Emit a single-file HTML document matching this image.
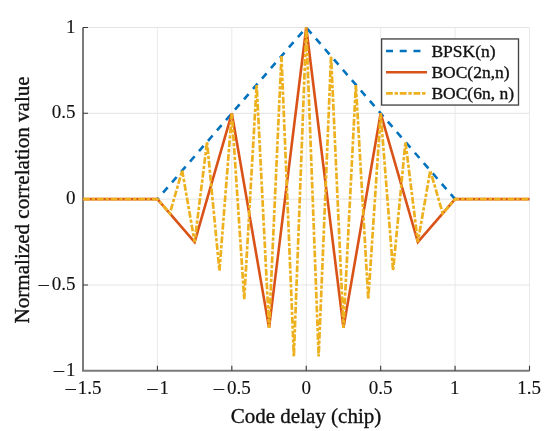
<!DOCTYPE html>
<html><head><meta charset="utf-8"><title>Correlation</title>
<style>html,body{margin:0;padding:0;background:#fff;}body{width:550px;height:431px;overflow:hidden;}svg{display:block;}</style>
</head><body>
<svg width="550" height="431" viewBox="0 0 550 431">
<path d="M157.42 27.5V370.8M231.83 27.5V370.8M306.25 27.5V370.8M380.67 27.5V370.8M455.08 27.5V370.8M529.5 27.5V370.8" stroke="#e9e9e9" stroke-width="1" fill="none"/>
<path d="M83 284.98H529.5M83 199.15H529.5M83 113.32H529.5M83 27.5H529.5" stroke="#e3e3e3" stroke-width="1" fill="none"/>
<path d="M83 27.5V370.8H529.5" stroke="#7a7a7a" stroke-width="2" fill="none"/>
<path d="M157.42 370.8v-5M231.83 370.8v-5M306.25 370.8v-5M380.67 370.8v-5M455.08 370.8v-5M529.5 370.8v-5M83 284.98h5M83 199.15h5M83 113.32h5M83 27.5h5" stroke="#383838" stroke-width="1.1" fill="none"/>
<polyline points="157.42,199.15 306.25,27.5 455.08,199.15" fill="none" stroke="#0072BD" stroke-width="2.6" stroke-dasharray="7 6.726" stroke-dashoffset="5.12"/>
<polyline points="83,199.15 157.42,199.15 194.62,242.06 231.83,113.32 269.04,327.89 306.25,27.5 343.46,327.89 380.67,113.32 417.88,242.06 455.08,199.15 529.5,199.15" fill="none" stroke="#D95319" stroke-width="2.6"/>
<polyline points="83,199.15 157.42,199.15 169.82,213.45 182.22,170.54 194.62,242.06 207.03,141.93 219.43,270.67 231.83,113.32 244.24,299.28 256.64,84.72 269.04,327.89 281.44,56.11 293.85,356.5 306.25,27.5 318.65,356.5 331.06,56.11 343.46,327.89 355.86,84.72 368.26,299.28 380.67,113.32 393.07,270.67 405.47,141.93 417.88,242.06 430.28,170.54 442.68,213.45 455.08,199.15 529.5,199.15" fill="none" stroke="#EDB120" stroke-width="2.7" stroke-dasharray="6.8 1.8 3.37 1.8" stroke-dashoffset="-0.15"/>
<text transform="translate(64.2 395.6) scale(1.2 1)" font-family="&quot;Liberation Serif&quot;, serif" font-size="19" fill="#111" stroke="#111" stroke-width="0.12">−</text>
<text x="77.66" y="394" font-family="&quot;Liberation Serif&quot;, serif" font-size="19" fill="#111" stroke="#111" stroke-width="0.12">1.5</text>
<text transform="translate(145.94 395.6) scale(1.2 1)" font-family="&quot;Liberation Serif&quot;, serif" font-size="19" fill="#111" stroke="#111" stroke-width="0.12">−</text>
<text x="159.4" y="394" font-family="&quot;Liberation Serif&quot;, serif" font-size="19" fill="#111" stroke="#111" stroke-width="0.12">1</text>
<text transform="translate(212.56 395.6) scale(1.2 1)" font-family="&quot;Liberation Serif&quot;, serif" font-size="19" fill="#111" stroke="#111" stroke-width="0.12">−</text>
<text x="226.97" y="394" font-family="&quot;Liberation Serif&quot;, serif" font-size="19" fill="#111" stroke="#111" stroke-width="0.12">0.5</text>
<text x="301.5" y="394" font-family="&quot;Liberation Serif&quot;, serif" font-size="19" fill="#111" stroke="#111" stroke-width="0.12">0</text>
<text x="368.8" y="394" font-family="&quot;Liberation Serif&quot;, serif" font-size="19" fill="#111" stroke="#111" stroke-width="0.12">0.5</text>
<text x="450.07" y="394" font-family="&quot;Liberation Serif&quot;, serif" font-size="19" fill="#111" stroke="#111" stroke-width="0.12">1</text>
<text x="517.16" y="394" font-family="&quot;Liberation Serif&quot;, serif" font-size="19" fill="#111" stroke="#111" stroke-width="0.12">1.5</text>
<text transform="translate(52.54 377.8) scale(1.2 1)" font-family="&quot;Liberation Serif&quot;, serif" font-size="19" fill="#111" stroke="#111" stroke-width="0.12">−</text>
<text x="66" y="375.9" font-family="&quot;Liberation Serif&quot;, serif" font-size="19" fill="#111" stroke="#111" stroke-width="0.12">1</text>
<text transform="translate(37.34 291.98) scale(1.2 1)" font-family="&quot;Liberation Serif&quot;, serif" font-size="19" fill="#111" stroke="#111" stroke-width="0.12">−</text>
<text x="51.75" y="290.08" font-family="&quot;Liberation Serif&quot;, serif" font-size="19" fill="#111" stroke="#111" stroke-width="0.12">0.5</text>
<text x="66" y="204.25" font-family="&quot;Liberation Serif&quot;, serif" font-size="19" fill="#111" stroke="#111" stroke-width="0.12">0</text>
<text x="51.75" y="118.42" font-family="&quot;Liberation Serif&quot;, serif" font-size="19" fill="#111" stroke="#111" stroke-width="0.12">0.5</text>
<text x="66" y="32.6" font-family="&quot;Liberation Serif&quot;, serif" font-size="19" fill="#111" stroke="#111" stroke-width="0.12">1</text>
<text x="306" y="422.7" text-anchor="middle" font-family="&quot;Liberation Serif&quot;, serif" font-size="21" fill="#111" stroke="#111" stroke-width="0.35">Code delay (chip)</text>
<text transform="translate(29.3 199.9) rotate(-90)" text-anchor="middle" font-family="&quot;Liberation Serif&quot;, serif" font-size="21.1" fill="#111" stroke="#111" stroke-width="0.35">Normalized correlation value</text>
<rect x="381.6" y="38.95" width="136.9" height="66.1" fill="#fff" stroke="#444" stroke-width="1.35"/>
<path d="M386 51.0H427" stroke="#0072BD" stroke-width="2.4" stroke-dasharray="7 6.726"/>
<text x="431.4" y="56.8" font-family="&quot;Liberation Serif&quot;, serif" font-size="17.5" fill="#111" stroke="#111" stroke-width="0.35">BPSK(n)</text>
<path d="M386 72.2H427" stroke="#D95319" stroke-width="2.4"/>
<text x="431.4" y="77.8" font-family="&quot;Liberation Serif&quot;, serif" font-size="17.5" fill="#111" stroke="#111" stroke-width="0.35">BOC(2n,n)</text>
<path d="M386 93.3H427" stroke="#EDB120" stroke-width="2.7" stroke-dasharray="6.8 1.8 3.37 1.8"/>
<text x="431.4" y="98.9" font-family="&quot;Liberation Serif&quot;, serif" font-size="17.5" fill="#111" stroke="#111" stroke-width="0.35">BOC(6n, n)</text>
</svg>
</body></html>
